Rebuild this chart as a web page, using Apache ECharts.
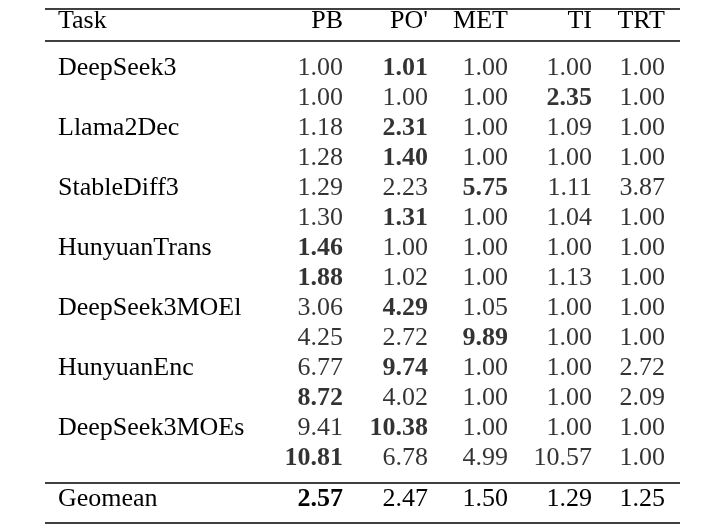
<!DOCTYPE html>
<html><head><meta charset="utf-8">
<script src="https://cdn.jsdelivr.net/npm/echarts@6/dist/echarts.min.js"></script>
<style>html,body{margin:0;background:#fff}#c{width:725px;height:530px}</style>
</head><body><div id="c"></div>
<script>
const columns = ['PB', "PO'", 'MET', 'TI', 'TRT'];
const tasks = ['DeepSeek3','RWKVTorch','Llama2Dec','Llama2','StableDiff3','DeepSeek3MLA','HunyuanTrans','DeepSeek3MLAD','DeepSeek3MOEl','S4','HunyuanEnc','HunyuanDec','DeepSeek3MOEs','Mamba2'];
const PB  = [1.00,1.00,1.18,1.28,1.29,1.30,1.46,1.88,3.06,4.25,6.77,8.72,9.41,10.81];
const PO  = [1.01,1.00,2.31,1.40,2.23,1.31,1.00,1.02,4.29,2.72,9.74,4.02,10.38,6.78];
const MET = [1.00,1.00,1.00,1.00,5.75,1.00,1.00,1.00,1.05,9.89,1.00,1.00,1.00,4.99];
const TI  = [1.00,2.35,1.09,1.00,1.11,1.04,1.00,1.13,1.00,1.00,1.00,1.00,1.00,10.57];
const TRT = [1.00,1.00,1.00,1.00,3.87,1.00,1.00,1.00,1.00,1.00,2.72,2.09,1.00,1.00];
const geomean = [2.57,2.47,1.50,1.29,1.25];

const colRight = [343,428,508,592,665]; // layout: right edge of each column
const font = '"Liberation Serif", "Times New Roman", serif', fs = 26;
const cols = [PB,PO,MET,TI,TRT];
const data = [];
tasks.forEach((t,i)=>{
  const row = cols.map(c=>c[i]); const mx = Math.max(...row);
  row.forEach((v,j)=>data.push({value:[colRight[j], t],
    label:{formatter:v.toFixed(2),fontWeight:v===mx?'bold':'normal'}}));
});
const gmax = Math.max(...geomean);
const graphic = [];
const line = y => ({type:'line',shape:{x1:45,y1:y,x2:680,y2:y},style:{stroke:'#000',lineWidth:1.3}});
graphic.push(line(9), line(41), line(483), line(523));
const txt = (s, opts, bold) => Object.assign({type:'text',style:{text:s,font:`${bold?'bold ':''}${fs}px ${font}`,fill:'#000'}}, opts);
graphic.push(txt('Task',{left:58,top:8}));
columns.forEach((c,j)=>graphic.push(txt(c,{right:725-colRight[j],top:8})));
graphic.push(txt('Geomean',{left:58,top:486}));
geomean.forEach((v,j)=>graphic.push(txt(v.toFixed(2),{right:725-colRight[j],top:486},v===gmax)));

const chart = echarts.init(document.getElementById('c'));
chart.setOption({
  animation:false,
  grid:{left:0,right:0,top:53,bottom:57,containLabel:false,outerBoundsMode:'none'},
  xAxis:{type:'value',min:0,max:725,show:false},
  yAxis:{type:'category',data:tasks,inverse:true,
    axisLine:{show:false},axisTick:{show:false},splitLine:{show:false},
    axisLabel:{inside:true,margin:58,color:'#000',fontFamily:font,fontSize:fs,align:'left'}},
  series:[{type:'scatter',symbolSize:0,data,
    label:{show:true,position:'left',distance:0,color:'#000',fontFamily:font,fontSize:fs}}],
  graphic
});
</script></body></html>
